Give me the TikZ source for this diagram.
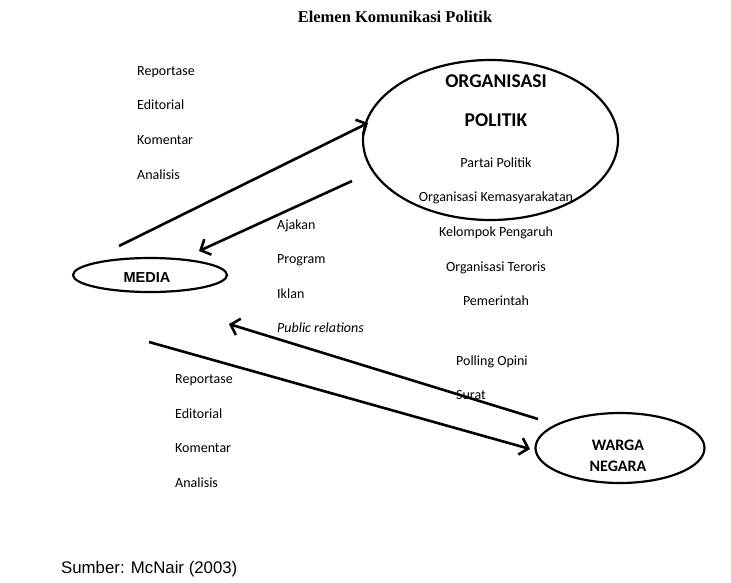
\documentclass[tikz,border=0pt]{standalone}
\usepackage{fontspec}
\setmainfont{Carlito}
\newfontfamily\arialf{Liberation Sans}
\newfontfamily\timesf{Liberation Serif}
\usetikzlibrary{arrows.meta,shapes.geometric}
\begin{document}
\begin{tikzpicture}[x=1pt,y=-1pt,
  lbl/.style={anchor=base west,inner sep=0pt,font=\fontsize{14}{16}\selectfont},
  clbl/.style={anchor=base,inner sep=0pt,font=\fontsize{14}{16}\selectfont},
  capl/.style={anchor=base,inner sep=0pt,font=\fontsize{16}{18}\selectfont\bfseries},
  bigcap/.style={anchor=base,inner sep=0pt,font=\fontsize{19.5}{22}\selectfont\bfseries},
  oval/.style={draw,ellipse,line width=2.2pt,inner sep=0pt},
  arr/.style={line width=2.6pt,-{Straight Barb[length=8pt,width=17pt]}}]
\path[use as bounding box,fill=white] (0,0) rectangle (731,582);
% title
\node[anchor=base,inner sep=0pt,font=\timesf\bfseries\fontsize{16.5}{18}\selectfont] (title) at (395,22) {Elemen Komunikasi Politik};
% ellipses
\node[oval,minimum width=255pt,minimum height=160pt] (org) at (490.5,140) {};
\node[oval,minimum width=154pt,minimum height=34pt] (media) at (150,275) {};
\node[oval,minimum width=169pt,minimum height=70pt] (warga) at (620,448) {};
% ellipse texts
\node[bigcap] (o1) at (496,87) {ORGANISASI};
\node[bigcap] (o2) at (496,126) {POLITIK};
\node[anchor=base,inner sep=0pt,font=\arialf\bfseries\fontsize{14.5}{16}\selectfont] (m1) at (147,282) {MEDIA};
\node[capl] (w1) at (618,450) {WARGA};
\node[capl] (w2) at (618,471) {NEGARA};
% centre list
\node[clbl] (c1) at (496,167) {Partai Politik};
\node[clbl] (c2) at (496,201.5) {Organisasi Kemasyarakatan};
\node[clbl] (c3) at (496,236.5) {Kelompok Pengaruh};
\node[clbl] (c4) at (496,271) {Organisasi Teroris};
\node[clbl] (c5) at (496,305) {Pemerintah};
% left top list
\node[lbl] (a1) at (137,75) {Reportase};
\node[lbl] (a2) at (137,109.5) {Editorial};
\node[lbl] (a3) at (137,144) {Komentar};
\node[lbl] (a4) at (137,179) {Analisis};
% middle list
\node[lbl] (b1) at (277,229) {Ajakan};
\node[lbl] (b2) at (277,263.5) {Program};
\node[lbl] (b3) at (277,298) {Iklan};
\node[lbl] (b4) at (277,332) {\itshape Public relations};
% lower list
\node[lbl] (d1) at (175,383) {Reportase};
\node[lbl] (d2) at (175,418) {Editorial};
\node[lbl] (d3) at (175,452) {Komentar};
\node[lbl] (d4) at (175,487) {Analisis};
% feedback list
\node[lbl] (e1) at (456,365) {Polling Opini};
\node[lbl] (e2) at (456,399) {Surat};
% source
\node[anchor=base west,inner sep=0pt,font=\arialf\fontsize{16.8}{18}\selectfont] (src) at (61,573) {Sumber: McNair (2003)};
% arrow end points
\coordinate (p1s) at (119,246);
\coordinate (p1e) at (368,123);
\coordinate (p2s) at (352,181);
\coordinate (p2e) at (199,251);
\coordinate (p3s) at (538,419);
\coordinate (p3e) at (229,324);
\coordinate (p4s) at (149,342);
\coordinate (p4e) at (530,449);
\draw[arr] (p1s) -- (p1e);
\draw[arr] (p2s) -- (p2e);
\draw[arr] (p3s) -- (p3e);
\draw[arr] (p4s) -- (p4e);
\end{tikzpicture}
\end{document}
